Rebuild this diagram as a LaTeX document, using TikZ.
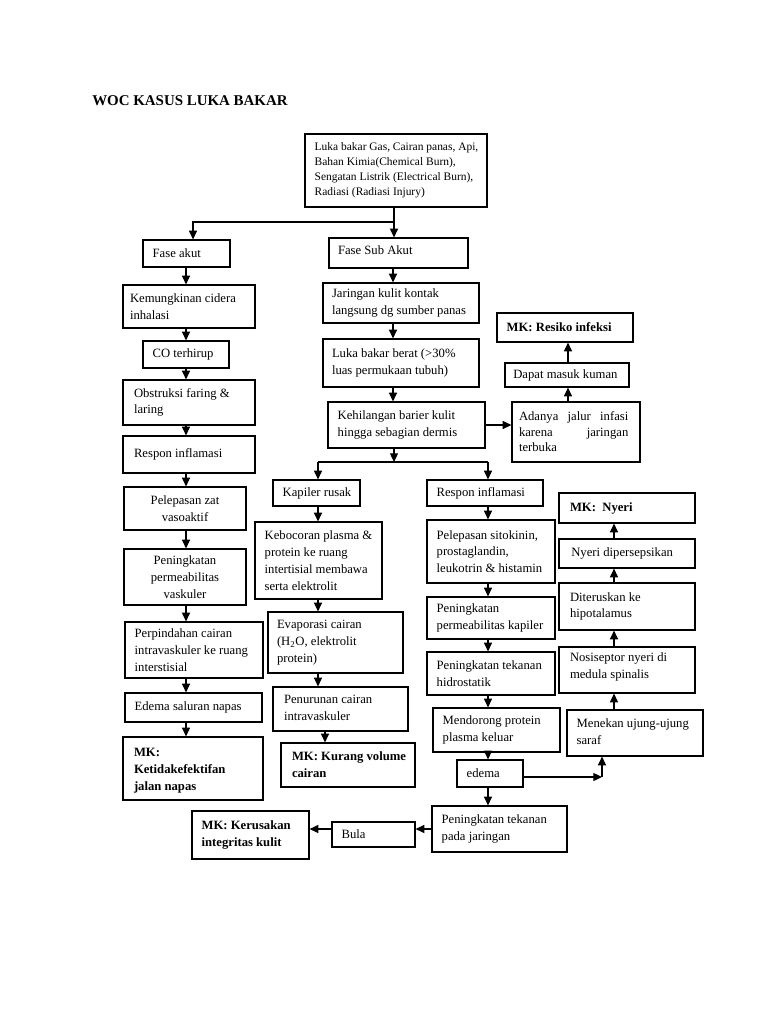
\documentclass[tikz,border=0pt]{standalone}
\usepackage{fontspec}
\setmainfont{Liberation Serif}
\usetikzlibrary{arrows.meta,calc}
\tikzset{
  box/.style={draw,line width=0.9pt,inner sep=0pt},
  txt/.style={inner sep=0pt,font=\fontsize{9.5}{12.6}\selectfont},
  ln/.style={line width=0.9pt},
  arr/.style={line width=0.9pt,-{Triangle[length=6.5pt,width=6pt]}}
}
\newcommand\bx[7]{%
  \pgfmathsetmacro\myW{(#4-#2)*0.75}%
  \pgfmathsetmacro\myH{(#5-#3)*0.75}%
  \node[box,minimum width=\myW pt,minimum height=\myH pt] (#1) at ({(#2+#4)/2},{(#3+#5)/2}) {};%
  \node[txt,anchor=west,align=left,#6] (#1t) at ([xshift=7.5pt]#1.west) {#7};}
\newcommand\bxc[7]{%
  \pgfmathsetmacro\myW{(#4-#2)*0.75}%
  \pgfmathsetmacro\myH{(#5-#3)*0.75}%
  \node[box,minimum width=\myW pt,minimum height=\myH pt] (#1) at ({(#2+#4)/2},{(#3+#5)/2}) {};%
  \node[txt,anchor=center,align=center,#6] (#1t) at (#1.center) {#7};}
\begin{document}
\begin{tikzpicture}[x=0.75pt,y=-0.75pt]
\fill[white] (0,0) rectangle (768,1024);
\useasboundingbox (0,0) rectangle (768,1024);
\node[inner sep=0pt,anchor=west,font=\fontsize{11.2}{14}\selectfont\bfseries] (title) at (92,101) {WOC KASUS LUKA BAKAR};
% top
\bx{top}{305}{134}{487}{207}{font=\fontsize{8.6}{11.2}\selectfont}{Luka bakar Gas, Cairan panas, Api,\\Bahan Kimia(Chemical Burn),\\Sengatan Listrik (Electrical Burn),\\Radiasi (Radiasi Injury)}
\bx{fa}{143}{240}{230}{267}{}{Fase akut}
\bx{fsa}{329}{238}{468}{268}{yshift=2pt,xshift=-0.5pt}{Fase Sub Akut}
% left column
\bx{k1}{123}{285}{255}{328}{xshift=-2pt}{Kemungkinan cidera\\inhalasi}
\bx{co}{143}{341}{229}{368}{}{CO terhirup}
\bx{ob}{123}{380}{255}{425}{xshift=1pt}{Obstruksi faring \&\\laring}
\bx{ri1}{123}{436}{255}{473}{xshift=1pt}{Respon inflamasi}
\bxc{pz}{124}{487}{246}{530}{}{Pelepasan zat\\vasoaktif}
\bxc{pv}{124}{549}{246}{605}{}{Peningkatan\\permeabilitas\\vaskuler}
\bx{pc}{125}{622}{263}{678}{}{Perpindahan cairan\\intravaskuler ke ruang\\interstisial}
\bx{es}{125}{693}{262}{722}{}{Edema saluran napas}
\bx{mk1}{123}{737}{263}{800}{xshift=1pt,yshift=-1.5pt,font=\fontsize{9.5}{12.6}\selectfont\bfseries}{MK:\\Ketidakefektifan\\jalan napas}
% middle
\bx{jk}{323}{283}{479}{323}{xshift=-0.5pt}{Jaringan kulit kontak\\langsung dg sumber panas}
\bx{lb}{323}{339}{479}{387}{xshift=-0.5pt}{Luka bakar berat (>30\%\\luas permukaan tubuh)}
\bx{kb}{328}{402}{485}{448}{}{Kehilangan barier kulit\\hingga sebagian dermis}
\bx{mr}{497}{313}{633}{342}{font=\fontsize{9.5}{12.6}\selectfont\bfseries}{MK: Resiko infeksi}
\bx{dk}{505}{363}{629}{387}{xshift=-1pt}{Dapat masuk kuman}
\bx{aj}{512}{402}{640}{462}{xshift=-2pt,text width=82pt,font=\fontsize{9.5}{11.6}\selectfont}{Adanya\hfill jalur\hfill infasi\\karena\hfill jaringan\\terbuka}
% kapiler branch
\bx{kr}{273}{480}{360}{506}{}{Kapiler rusak}
\bx{kp}{255}{522}{382}{599}{}{Kebocoran plasma \&\\protein ke ruang\\intertisial membawa\\serta elektrolit}
\bx{ev}{268}{612}{403}{673}{xshift=-0.5pt}{Evaporasi cairan\\(H\textsubscript{2}O, elektrolit\\protein)}
\bx{pn}{273}{687}{408}{731}{xshift=1pt,yshift=1pt}{Penurunan cairan\\intravaskuler}
\bx{mk2}{281}{743}{415}{787}{xshift=1pt,font=\fontsize{9.5}{12.6}\selectfont\bfseries}{MK: Kurang volume\\cairan}
% inflamasi branch
\bx{ri2}{427}{480}{543}{506}{}{Respon inflamasi}
\bx{ps}{427}{520}{555}{583}{}{Pelepasan sitokinin,\\prostaglandin,\\leukotrin \& histamin}
\bx{pk}{427}{597}{555}{639}{}{Peningkatan\\permeabilitas kapiler}
\bx{ph}{427}{652}{555}{695}{}{Peningkatan tekanan\\hidrostatik}
\bx{md}{433}{708}{560}{752}{}{Mendorong protein\\plasma keluar}
\bx{ed}{457}{760}{523}{787}{}{edema}
\bx{pj}{432}{806}{567}{852}{}{Peningkatan tekanan\\pada jaringan}
\bx{bu}{332}{822}{415}{847}{}{Bula}
\bx{mk3}{192}{811}{309}{859}{font=\fontsize{9.5}{12.6}\selectfont\bfseries}{MK: Kerusakan\\integritas kulit}
% nyeri
\bx{mn}{559}{493}{695}{523}{xshift=1pt,font=\fontsize{9.5}{12.6}\selectfont\bfseries}{MK:\ \ Nyeri}
\bx{nd}{559}{539}{695}{568}{xshift=2pt}{Nyeri dipersepsikan}
\bx{dt}{559}{583}{695}{630}{xshift=1pt}{Diteruskan ke\\hipotalamus}
\bx{ns}{559}{647}{695}{693}{xshift=1pt,yshift=2pt}{Nosiseptor nyeri di\\medula spinalis}
\bx{mu}{567}{710}{703}{756}{yshift=1pt}{Menekan ujung-ujung\\saraf}
% guide coordinates
\coordinate (cL) at (186,0);
\coordinate (cM) at (393,0);
\coordinate (cK) at (318,0);
\coordinate (cP) at (325,0);
\coordinate (cR) at (488,0);
\coordinate (cI) at (568,0);
\coordinate (cN) at (614,0);
\coordinate (cB) at (0,829);
\coordinate (j1) at (394,222);
\coordinate (j2) at (193,222);
\coordinate (j3) at (394,462);
\coordinate (j4) at (318,462);
\coordinate (j5) at (488,462);
\coordinate (j6) at (602,777);
% top split
\draw[arr] (top.south -| j1) -- (j1) -- (j2) -- (fa.north -| j2);
\draw[arr] (j1) -- (fsa.north -| j1);
% left chain
\foreach \a/\b in {fa/k1,k1/co,co/ob,ob/ri1,ri1/pz,pz/pv,pv/pc,pc/es,es/mk1}
  \draw[arr] (\a.south -| cL) -- (\b.north -| cL);
% middle chain
\foreach \a/\b in {fsa/jk,jk/lb,lb/kb}
  \draw[arr] (\a.south -| cM) -- (\b.north -| cM);
\draw[arr] (kb.south -| j3) -- (j3);
\draw[ln] (j4) -- (j5);
\draw[arr] (j4) -- (kr.north -| j4);
\draw[arr] (j5) -- (ri2.north -| j5);
\draw[arr] (kb.east) -- (aj.west |- kb.east);
\draw[arr] (aj.north -| cI) -- (dk.south -| cI);
\draw[arr] (dk.north -| cI) -- (mr.south -| cI);
% kapiler chain
\foreach \a/\b in {kr/kp,kp/ev,ev/pn}
  \draw[arr] (\a.south -| cK) -- (\b.north -| cK);
\draw[arr] (pn.south -| cP) -- (mk2.north -| cP);
% inflamasi chain
\foreach \a/\b in {ri2/ps,ps/pk,pk/ph,ph/md,md/ed,ed/pj}
  \draw[arr] (\a.south -| cR) -- (\b.north -| cR);
\draw[arr] (ed.east |- j6) -- (j6);
\draw[arr] (j6) -- (mu.south -| j6);
\foreach \a/\b in {mu/ns,ns/dt,dt/nd,nd/mn}
  \draw[arr] (\a.north -| cN) -- (\b.south -| cN);
% bottom
\draw[arr] (pj.west |- cB) -- (bu.east |- cB);
\draw[arr] (bu.west |- cB) -- (mk3.east |- cB);
\end{tikzpicture}
\end{document}
